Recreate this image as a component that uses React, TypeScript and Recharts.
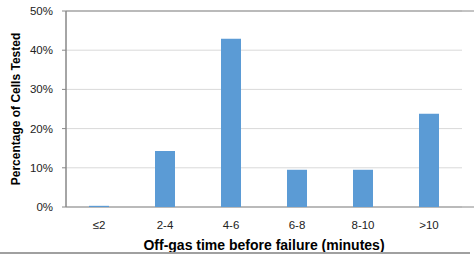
import { BarChart, Bar, XAxis, YAxis, CartesianGrid, ReferenceArea } from "recharts";

const categories = ["≤2", "2-4", "4-6", "6-8", "8-10", ">10"];
const percentTested = [0.3, 14.3, 42.9, 9.5, 9.5, 23.8];
const yTicks = [0, 10, 20, 30, 40, 50];
const edgeTicks = [0, 1, 2, 3, 4, 5, 6];

const data = categories.map((bin, i) => ({ bin, pct: percentTested[i] }));

const FONT = "'Liberation Sans', Arial, sans-serif";

export default function App() {
  return (
    <div style={{ position: "absolute", left: 0, top: 0, width: 474, height: 262, background: "#fff", fontFamily: FONT }}>
      <BarChart width={474} height={262} data={data} margin={{ top: 11, right: 12, bottom: 0, left: 0 }}>
        <CartesianGrid vertical={false} stroke="#d9d9d9" />
        <XAxis
          xAxisId="edge"
          type="number"
          domain={[0, 6]}
          ticks={edgeTicks}
          allowDataOverflow
          height={0}
          tick={false}
          tickSize={5}
          stroke="#888"
        />
        <XAxis
          dataKey="bin"
          xAxisId="cat"
          height={55}
          tickLine={false}
          axisLine={false}
          tick={{ fill: "#222", fontSize: 11.5, fontFamily: FONT }}
          tickMargin={8}
          label={{ value: "Off-gas time before failure (minutes)", position: "insideBottom", offset: 12, fill: "#000", fontSize: 14, fontWeight: "bold", fontFamily: FONT }}
        />
        <YAxis
          width={66}
          domain={[0, 50]}
          ticks={yTicks}
          tickFormatter={(v) => `${v}%`}
          tickSize={4}
          tickMargin={9}
          stroke="#888"
          tick={{ fill: "#222", fontSize: 11.5, fontFamily: FONT }}
          label={{ value: "Percentage of Cells Tested", angle: -90, position: "insideLeft", offset: 16, style: { textAnchor: "middle" }, fill: "#000", fontSize: 12, fontWeight: "bold", fontFamily: FONT }}
        />
        <ReferenceArea xAxisId="edge" x1={0} x2={6} y1={0} y2={50} fill="none" stroke="#888" ifOverflow="visible" />
        <Bar xAxisId="cat" dataKey="pct" fill="#5b9bd5" barSize={20} isAnimationActive={false} />
      </BarChart>
      <div style={{ position: "absolute", left: 0, top: 252, width: 470, height: 0, borderTop: "2px solid #a0a0a0" }} />
    </div>
  );
}
